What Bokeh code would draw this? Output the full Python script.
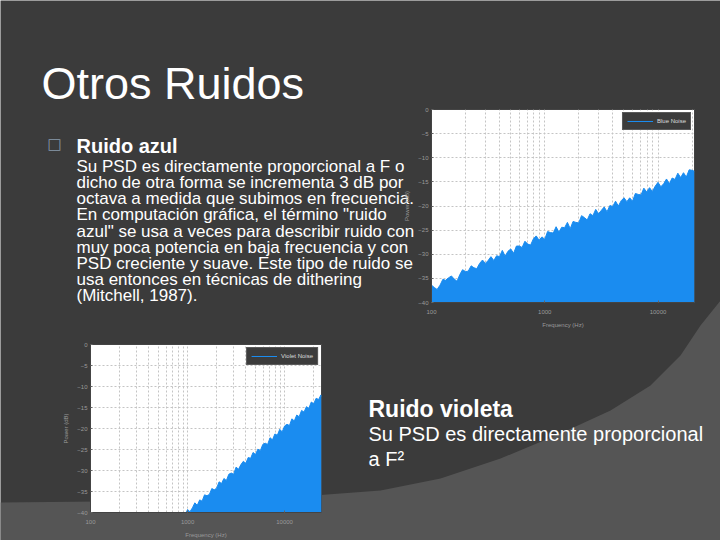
from bokeh.plotting import figure
from bokeh.core.properties import value
from bokeh.models import (Range1d, FixedTicker, Legend, LegendItem,
                          ColumnDataSource, PrintfTickFormatter)
from bokeh.embed import file_html
from bokeh.resources import INLINE

# ---------------- data ----------------
title_text = "Otros Ruidos"
azul_heading = "Ruido azul"
azul_lines = [
    "Su PSD es directamente proporcional a F o",
    "dicho de otra forma se incrementa 3 dB por",
    "octava a medida que subimos en frecuencia.",
    "En computación gráfica, el término \"ruido",
    "azul\" se usa a veces para describir ruido con",
    "muy poca potencia en baja frecuencia y con",
    "PSD creciente y suave. Este tipo de ruido se",
    "usa entonces en técnicas de dithering",
    "(Mitchell, 1987).",
]
violeta_heading = "Ruido violeta"
violeta_lines = ["Su PSD es directamente proporcional", "a F²"]

blue_name = "Blue Noise"
blue_freq = [100, 106, 112, 119, 126, 133, 141, 150, 158, 168, 178, 188, 200, 211,
             224, 237, 251, 266, 282, 299, 316, 335, 355, 376, 398, 422, 447, 473,
             501, 531, 562, 596, 631, 668, 708, 750, 794, 841, 891, 944, 1000, 1059,
             1122, 1189, 1259, 1334, 1413, 1496, 1585, 1679, 1778, 1884, 1995, 2113,
             2239, 2371, 2512, 2661, 2818, 2985, 3162, 3350, 3548, 3758, 3981, 4217,
             4467, 4732, 5012, 5309, 5623, 5957, 6310, 6683, 7079, 7499, 7943, 8414,
             8913, 9441, 10000, 10593, 11220, 11885, 12589, 13335, 14125, 14962,
             15849, 16788, 17783, 18836, 19953, 21000]
blue_db = [-36.4, -36.9, -37.3, -36.4, -35.2, -35.4, -34.9, -34.5, -35.1, -35.6,
           -34.2, -33.2, -33.6, -33.5, -32.4, -32.8, -33.0, -31.9, -31.2, -31.9,
           -31.3, -30.5, -31.3, -30.3, -30.5, -29.2, -30.4, -29.4, -28.9, -29.8,
           -28.3, -28.3, -28.6, -27.3, -27.9, -28.1, -26.8, -26.2, -27.1, -26.4,
           -26.9, -25.3, -25.5, -25.6, -24.3, -25.4, -24.4, -24.5, -23.4, -24.7,
           -23.2, -23.4, -23.5, -22.0, -22.4, -22.9, -21.6, -22.0, -20.7, -21.6,
           -20.9, -20.2, -21.2, -19.9, -20.1, -19.0, -20.0, -18.9, -18.3, -19.1,
           -18.3, -19.0, -17.4, -17.6, -17.7, -16.3, -17.1, -16.2, -17.0, -15.9,
           -15.1, -16.0, -15.4, -14.4, -15.4, -14.2, -14.5, -13.2, -14.1, -13.1,
           -14.0, -12.5, -12.6, -12.8]

violet_name = "Violet Noise"
violet_freq = [100, 300, 600, 794, 841, 891, 944, 1000, 1059, 1122, 1189, 1259, 1334,
               1413, 1496, 1585, 1679, 1778, 1884, 1995, 2113, 2239, 2371, 2512, 2661,
               2818, 2985, 3162, 3350, 3548, 3758, 3981, 4217, 4467, 4732, 5012, 5309,
               5623, 5957, 6310, 6683, 7079, 7499, 7943, 8414, 8913, 9441, 10000,
               10593, 11220, 11885, 12589, 13335, 14125, 14962, 15849, 16788, 17783,
               18836, 19953, 21135, 22387, 23714, 24000]
violet_db = [-59.8, -50.3, -44.3, -41.6, -41.8, -40.5, -40.6, -39.3, -39.8, -38.9,
             -37.7, -38.3, -37.0, -37.3, -35.8, -36.0, -35.7, -34.3, -34.6, -34.2,
             -32.7, -33.1, -31.9, -32.4, -30.9, -30.6, -30.9, -29.2, -29.7, -28.6,
             -27.8, -28.3, -26.9, -27.1, -25.7, -26.2, -24.9, -25.3, -23.8, -23.5,
             -23.8, -22.2, -22.7, -21.3, -21.6, -20.2, -20.8, -19.4, -19.0, -19.3,
             -17.7, -18.2, -16.8, -17.2, -15.7, -16.1, -14.8, -15.2, -13.7, -14.1,
             -12.8, -13.1, -12.0, -12.4]

y_ticks = [-40, -35, -30, -25, -20, -15, -10, -5, 0]
x_ticks = [100, 1000, 10000]
x_minor = [200, 300, 400, 500, 600, 700, 800, 900,
           2000, 3000, 4000, 5000, 6000, 7000, 8000, 9000, 20000]
x_label = "Frequency (Hz)"
y_label = "Power (dB)"

# ---------------- style ----------------
FONT = "Liberation Sans"
SLIDE_BG = "#3b3b3b"
SWOOSH = "#555555"
BLUE = "#1a8cf0"
TICK_COLOR = "#9a9a9a"


def place(fig, left, top):
    fig.styles = {"position": "absolute", "left": f"{left}px", "top": f"{top}px"}


# ---------------- slide background (page pixel coordinates) ----------------
bg = figure(width=720, height=540, x_range=Range1d(0, 720), y_range=Range1d(540, 0),
            output_backend="svg", toolbar_location=None, title=None,
            min_border_left=0, min_border_right=0, min_border_top=0, min_border_bottom=0)
bg.xaxis.visible = False
bg.yaxis.visible = False
bg.grid.visible = False
bg.outline_line_color = None
bg.background_fill_color = SLIDE_BG
bg.border_fill_color = SLIDE_BG

bg.patch([0, 100, 200, 300, 380, 440, 500, 560, 610, 650, 680, 700, 720, 720, 0],
         [502, 501, 499, 496, 490, 478, 458, 433, 410, 385, 355, 325, 300, 540, 540],
         fill_color=SWOOSH, line_color=None)


def add_text(fig, xs, ys, texts, size, bold=False, color="white", font=FONT):
    fig.text(x=xs, y=ys, text=texts, text_font=value(font), text_font_size=value(size),
             text_color=color, text_baseline="alphabetic", text_align="left",
             text_font_style="bold" if bold else "normal")


add_text(bg, [41], [83], [title_text], "45px")
add_text(bg, [47], [143], ["□"], "15px", color="#8899aa", font="DejaVu Sans")
add_text(bg, [76], [145], [azul_heading], "20px", bold=True)
add_text(bg, [76] * len(azul_lines), [166 + i * 16.15 for i in range(len(azul_lines))],
         azul_lines, "17px")
add_text(bg, [368], [408], [violeta_heading], "23px", bold=True)
add_text(bg, [368] * len(violeta_lines), [433 + i * 25 for i in range(len(violeta_lines))],
         violeta_lines, "20px")
place(bg, 0, 0)


# ---------------- charts ----------------
def make_chart(freq, db, name, x_end, frame_w, frame_h, bl, br, bt, bb, left, top):
    p = figure(width=bl + frame_w + br, height=bt + frame_h + bb,
               x_axis_type="log", x_range=Range1d(100, x_end), y_range=Range1d(-40, 0),
               output_backend="svg", toolbar_location=None, title=None,
               min_border_left=bl, min_border_right=br,
               min_border_top=bt, min_border_bottom=bb)
    p.background_fill_color = "white"
    p.border_fill_color = None
    p.outline_line_color = "#444444"
    src = ColumnDataSource(dict(f=freq, db=db))
    p.varea(x="f", y1=-80, y2="db", source=src, fill_color=BLUE)
    r = p.line(x="f", y="db", source=src, line_color=BLUE, line_width=1)

    xt = FixedTicker(ticks=x_ticks, minor_ticks=x_minor)
    yt = FixedTicker(ticks=y_ticks)
    p.xaxis.ticker = xt
    p.xgrid.ticker = xt
    p.yaxis.ticker = yt
    p.ygrid.ticker = yt
    p.xaxis.formatter = PrintfTickFormatter(format="%d")
    for g in (p.xgrid, p.ygrid):
        g.grid_line_color = "#c4c4c4"
        g.grid_line_dash = "2 2"
    p.xgrid.minor_grid_line_color = "#c4c4c4"
    p.xgrid.minor_grid_line_dash = "2 2"
    for ax in (p.xaxis, p.yaxis):
        ax.axis_line_color = "#444444"
        ax.major_tick_in = 2
        ax.major_tick_out = 0
        ax.major_tick_line_color = "#666666"
        ax.minor_tick_line_color = None
        ax.major_label_text_font = FONT
        ax.major_label_text_font_size = "6px"
        ax.major_label_text_color = TICK_COLOR
        ax.axis_label_text_font = FONT
        ax.axis_label_text_font_size = "6px"
        ax.axis_label_text_font_style = "normal"
        ax.axis_label_text_color = TICK_COLOR
        ax.major_label_standoff = 3
        ax.axis_label_standoff = 5
    p.xaxis.axis_label = x_label
    p.yaxis.axis_label = y_label

    legend = Legend(items=[LegendItem(label=name, renderers=[r])], location="top_right",
                    background_fill_color="#3c3c3c", background_fill_alpha=1,
                    border_line_color="#777777", label_text_color="#dddddd",
                    label_text_font=FONT, label_text_font_size="6px",
                    glyph_width=26, glyph_height=8, label_height=8, label_width=20,
                    padding=4, margin=3, spacing=0, label_standoff=4)
    p.add_layout(legend)
    place(p, left, top)
    return p


c1 = make_chart(blue_freq, blue_db, blue_name, 21000, 263, 193, 30, 18, 9, 30, 401, 100)
c2 = make_chart(violet_freq, violet_db, violet_name, 24000, 231, 170, 30, 19, 9, 26, 60, 335)

p = [bg, c1, c2]
open("out.html", "w").write(file_html(p, INLINE))
